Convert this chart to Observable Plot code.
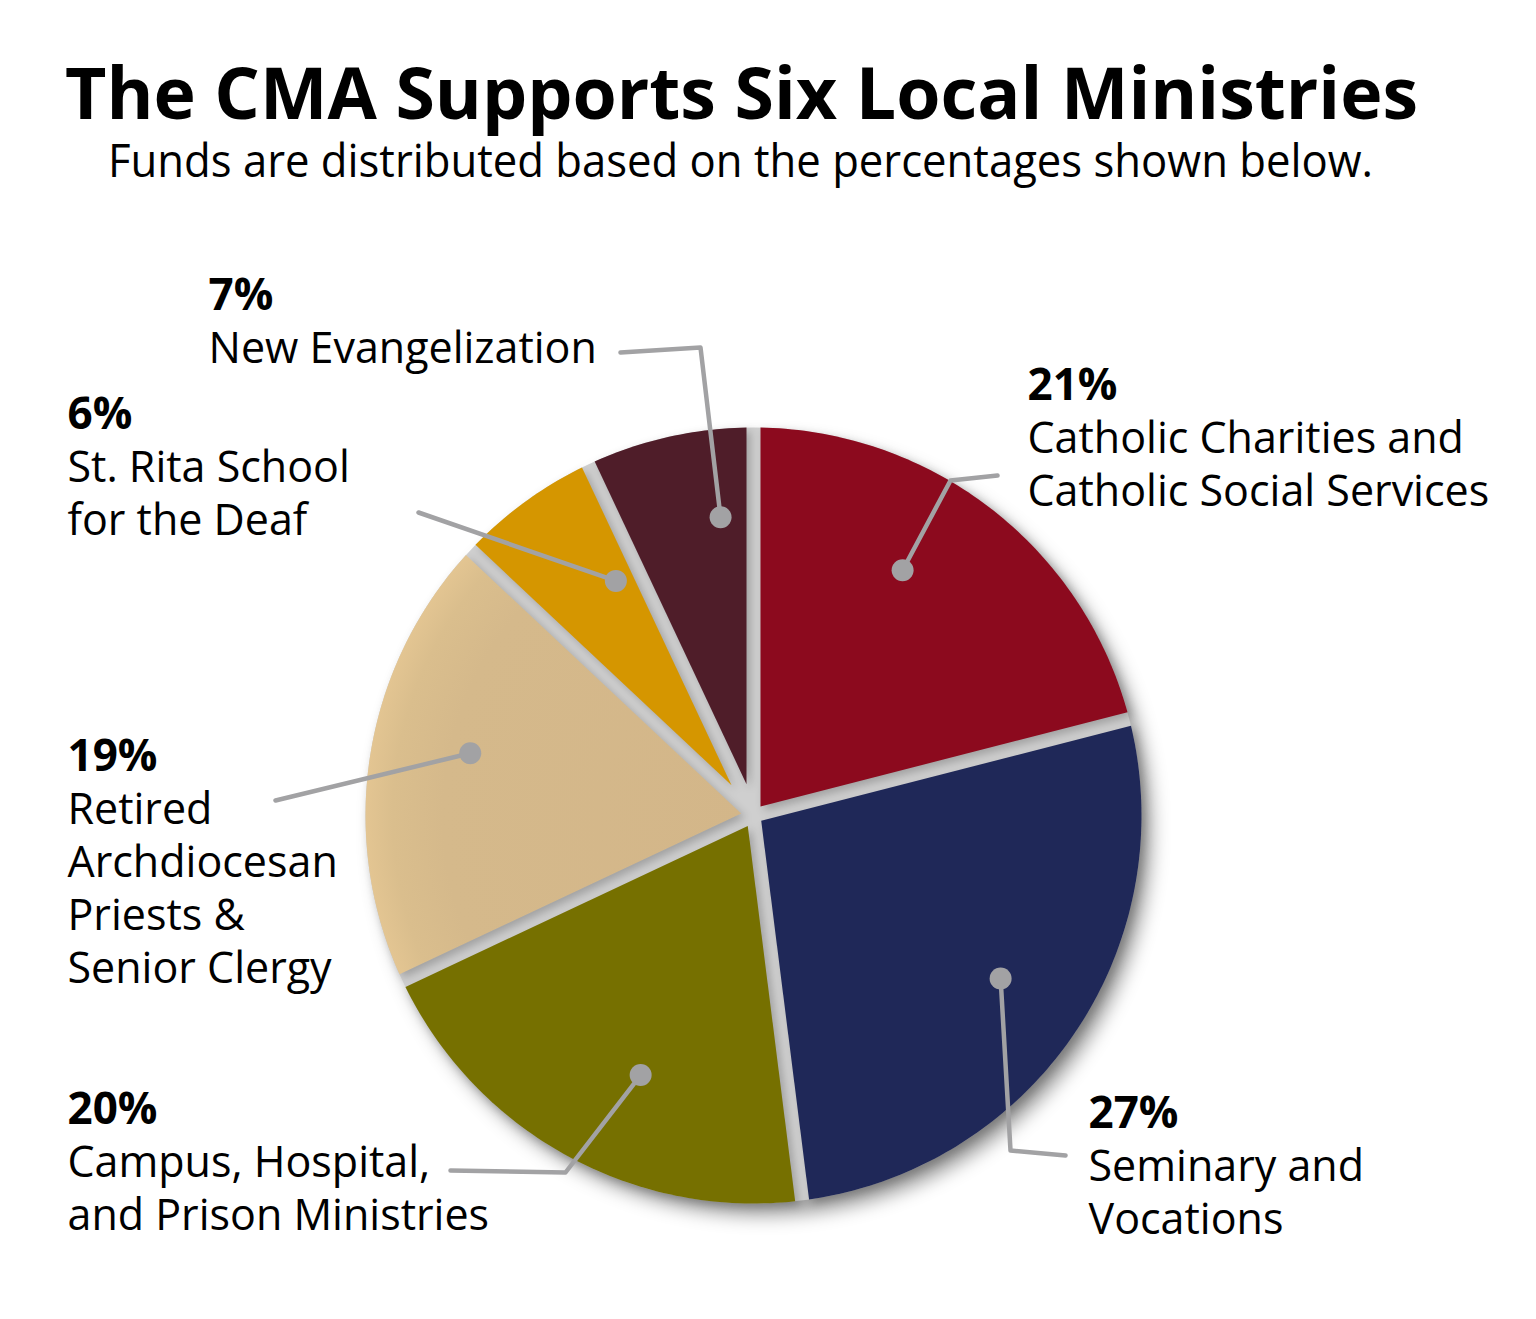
<!DOCTYPE html>
<html><head><meta charset="utf-8">
<script src="https://cdn.jsdelivr.net/npm/d3@7"></script>
<script src="https://cdn.jsdelivr.net/npm/@observablehq/plot@0.6"></script>
<style>
html,body{margin:0;padding:0;background:#fff;}
#header{display:block;}
#chart svg{display:block;}
</style></head><body>
<svg id="header" width="1536" height="220" xmlns="http://www.w3.org/2000/svg">
  <text x="65" y="119" font-family="Open Sans" font-weight="700" font-size="72" fill="#000" textLength="1353" lengthAdjust="spacingAndGlyphs">The CMA Supports Six Local Ministries</text>
  <text x="108" y="177" font-family="Open Sans" font-weight="400" font-size="45" fill="#000" textLength="1265" lengthAdjust="spacingAndGlyphs">Funds are distributed based on the percentages shown below.</text>
</svg>
<div id="chart"></div>
<script>
// ---- data ----
const categories = ["Catholic Charities", "Seminary", "Campus", "Retired", "St. Rita", "New Evangelization"];
const labelTexts = [
  "Catholic Charities and\nCatholic Social Services",
  "Seminary and\nVocations",
  "Campus, Hospital,\nand Prison Ministries",
  "Retired\nArchdiocesan\nPriests &\nSenior Clergy",
  "St. Rita School\nfor the Deaf",
  "New Evangelization"
];
const values = [21, 27, 20, 19, 6, 7];
const colors = ["#8C0A1E", "#1F2858", "#767000", "#D5B98B", "#D59600", "#4F1D29"];

// ---- layout (page pixel coordinates) ----
const TOP = 220, W = 1536, H = 1319 - TOP;
const center = [753, 815], R = 388, gap = 14;
const labelAnchors = [[1027, 399], [1088, 1127], [67, 1123], [67, 770], [67, 428], [208, 309]];
const dotPlacement = [[-6.5, 287], [-0.8, 296], [-5.3, 283], [3.4, 290], [5.6, 272], [6.3, 300]]; // deg from bisector, radius
const leaderBends = [
  [[950, 480], [997, 475]],
  [[1010, 1150], [1065, 1155]],
  [[565, 1172], [450, 1170]],
  [[275, 800]],
  [[418, 512]],
  [[700, 347], [620, 352]]
];
const lineGap = 53;

const rows = categories.map((c, i) => ({cat: c, value: values[i], label: labelTexts[i]}));
const arcs = d3.pie().sort(null).value(d => d.value)(rows);
const pt = (a, r) => [center[0] + r * Math.sin(a), center[1] - r * Math.cos(a)];

// base disc under the slices (shows through the gaps)
const discPts = d3.range(0, 361, 2).map(deg => {
  const p = pt(deg * Math.PI / 180, R);
  return {x: p[0], y: p[1]};
});

const slicePts = [];
arcs.forEach(arc => {
  const a0 = arc.startAngle, a1 = arc.endAngle, half = (a1 - a0) / 2, m = a0 + half;
  const h = gap / 2;
  const apex = pt(m, h / Math.sin(half));
  slicePts.push({cat: arc.data.cat, x: apex[0], y: apex[1]});
  const da = Math.asin(h / R);
  const N = Math.max(8, Math.round((a1 - a0) * 60));
  for (let k = 0; k <= N; ++k) {
    const a = a0 + da + (a1 - a0 - 2 * da) * k / N;
    const p = pt(a, R);
    slicePts.push({cat: arc.data.cat, x: p[0], y: p[1]});
  }
});

const dots = [], leaderPts = [];
arcs.forEach((arc, i) => {
  const m = (arc.startAngle + arc.endAngle) / 2 + dotPlacement[i][0] * Math.PI / 180;
  const p = pt(m, dotPlacement[i][1]);
  dots.push({cat: arc.data.cat, x: p[0], y: p[1]});
  leaderPts.push({cat: arc.data.cat, x: p[0], y: p[1]});
  leaderBends[i].forEach(b => leaderPts.push({cat: arc.data.cat, x: b[0], y: b[1]}));
});

const pctRows = rows.map((d, i) => ({x: labelAnchors[i][0], y: labelAnchors[i][1], text: `${d.value}%`}));
const nameRows = [];
rows.forEach((d, i) => {
  d.label.split("\n").forEach((line, j) => {
    nameRows.push({x: labelAnchors[i][0], y: labelAnchors[i][1] + lineGap * (j + 1), text: line});
  });
});

const chart = Plot.plot({
  width: W, height: H,
  marginTop: 0, marginRight: 0, marginBottom: 0, marginLeft: 0,
  style: {fontFamily: "Open Sans", background: "#fff"},
  x: {domain: [0, W], range: [0, W], axis: null},
  y: {domain: [TOP, 1319], range: [0, H], axis: null},
  color: {domain: categories, range: colors},
  marks: [
    Plot.line(discPts, {x: "x", y: "y", fill: "#CFCFCF", stroke: "none", curve: "linear-closed"}),
    Plot.line(slicePts, {x: "x", y: "y", z: "cat", fill: "cat", stroke: "none", curve: "linear-closed"}),
    Plot.line(leaderPts, {x: "x", y: "y", z: "cat", stroke: "#A2A2A4", strokeWidth: 4.5, curve: "linear"}),
    Plot.dot(dots, {x: "x", y: "y", r: 11, fill: "#A2A2A4", stroke: "none"}),
    Plot.text(pctRows, {x: "x", y: "y", text: "text", textAnchor: "start", lineAnchor: "bottom", fontSize: 44, fontWeight: 700, fontFamily: "Open Sans", fill: "#000"}),
    Plot.text(nameRows, {x: "x", y: "y", text: "text", textAnchor: "start", lineAnchor: "bottom", fontSize: 43, fontWeight: 400, fontFamily: "Open Sans", fill: "#000"})
  ]
});

// visual effects: drop shadow and tan shading
const ns = "http://www.w3.org/2000/svg";
const lineGroups = chart.querySelectorAll('g[aria-label="line"]');
if (lineGroups[0]) lineGroups[0].style.filter = "drop-shadow(10px 12px 9px rgba(0,0,0,0.38))";
const sg = lineGroups[1];
if (sg) {
  sg.style.filter = "drop-shadow(4px 4px 4px rgba(0,0,0,0.22))";
  const defs = document.createElementNS(ns, "defs");
  const grad = document.createElementNS(ns, "radialGradient");
  grad.setAttribute("id", "tanGrad");
  grad.setAttribute("gradientUnits", "userSpaceOnUse");
  grad.setAttribute("cx", center[0]); grad.setAttribute("cy", center[1] - TOP); grad.setAttribute("r", R);
  [[0, "#D3B689"], [0.8, "#D5B98B"], [0.93, "#DABE8D"], [1, "#E3C592"]].forEach(([o, c]) => {
    const s = document.createElementNS(ns, "stop");
    s.setAttribute("offset", o); s.setAttribute("stop-color", c); grad.appendChild(s);
  });
  defs.appendChild(grad);
  chart.insertBefore(defs, chart.firstChild);
  const paths = sg.querySelectorAll("path");
  if (paths[3]) paths[3].setAttribute("fill", "url(#tanGrad)");
}
document.getElementById("chart").appendChild(chart);
</script>
</body></html>
